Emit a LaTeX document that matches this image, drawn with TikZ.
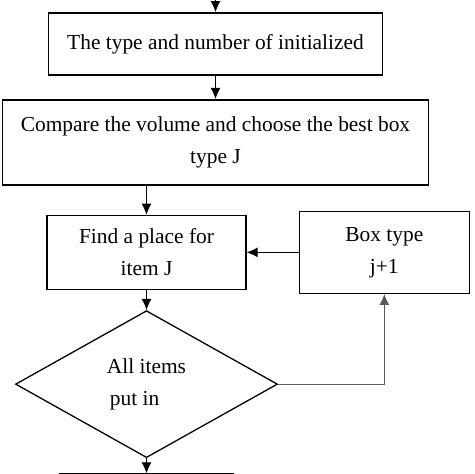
\documentclass[tikz,border=0pt]{standalone}
\usepackage{fontspec}
\setmainfont{Liberation Serif}
\usepackage{tikz}
\usetikzlibrary{shapes.geometric, arrows.meta, positioning}
\tikzstyle{process} = [rectangle, minimum width=99.5pt, minimum height=37pt, align=center, draw=black, line width=0.65pt, font=\fontsize{10.7}{16}\selectfont]
\tikzstyle{widebox} = [process, line width=0.9pt]
\tikzstyle{decision} = [diamond, minimum width=131pt, minimum height=73.5pt, inner sep=0pt, align=left, draw=black, line width=0.65pt, font=\fontsize{10.7}{16}\selectfont]
\tikzstyle{arrow} = [line width=0.5pt, -{Latex[length=5.5pt,width=5pt]}]

\begin{document}
\begin{tikzpicture}
\useasboundingbox (0,0) rectangle (237pt,-237pt);

\node (init) [widebox, minimum width=167pt, minimum height=31pt] at (107.75pt,-22pt) {The type and number of initialized};
\node (compare) [widebox, below=11.5pt of init, minimum width=213pt, minimum height=42.5pt] {Compare the volume and choose the best box\\type J};
\node (place) [process, below=14.5pt of compare, xshift=-34.5pt] {Find a place for\\item J};
\node (nexttype) [process, right=26pt of place, minimum width=85pt, minimum height=41pt] {Box type\\j+1};
\node (check) [decision, below=10pt of place] {All items\\\hspace*{1.5pt}put in};
\node (done) [process, below=7.5pt of check, minimum width=86pt, minimum height=30pt, line width=1.3pt] {};
\coordinate (top) at ([yshift=24pt]init.north);

\draw [arrow] (top) -- (init);
\draw [arrow] (init) -- (compare);
\draw [arrow] (compare.south -| place.north) -- (place);
\draw [arrow] (nexttype) -- (place);
\draw [arrow] (place) -- (check);
\draw [arrow, black!65] (check.east) -| (nexttype.south);
\draw [arrow] (check) -- (done);

\end{tikzpicture}
\end{document}
